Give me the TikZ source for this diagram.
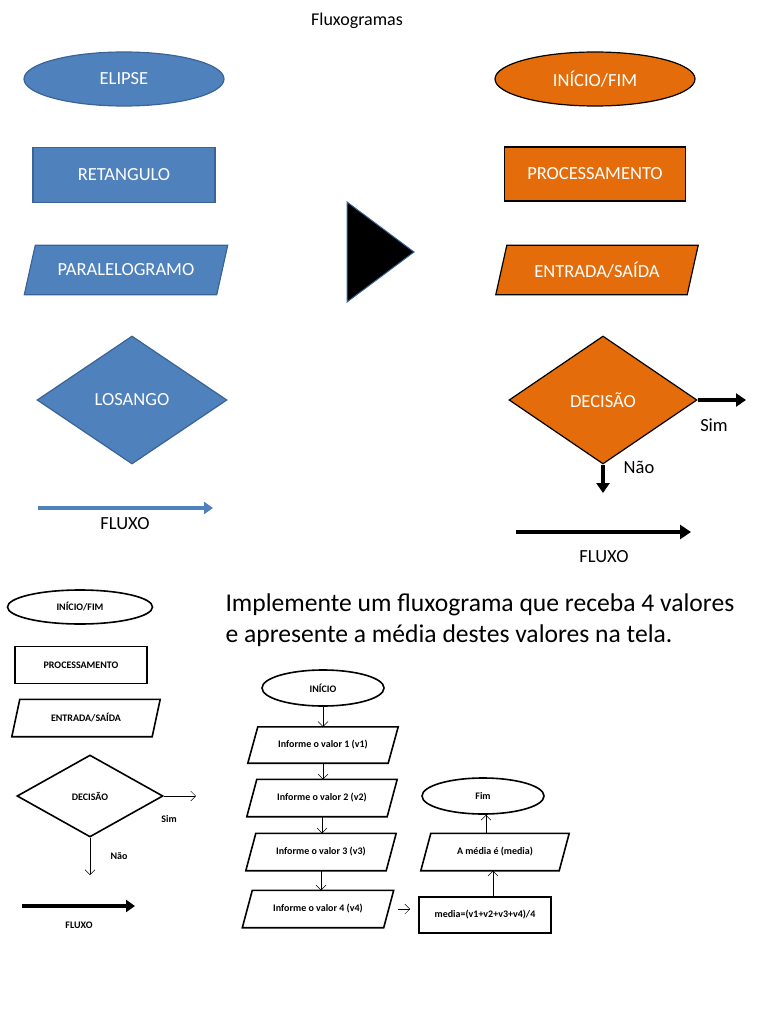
\documentclass[tikz,border=0pt]{standalone}
\usepackage{fontspec}
\setmainfont{Carlito}
\usetikzlibrary{positioning}
\usetikzlibrary{shapes.geometric}
\usetikzlibrary{arrows.meta}
\definecolor{azul}{HTML}{4F81BD}
\definecolor{azulb}{HTML}{3A6496}
\definecolor{laranja}{HTML}{E46C0A}
% parallelogram drawn round a named node: name, center, width, height, skew, style, text
\newcommand\paral[7]{%
\node[inner sep=0pt,minimum width=#3,minimum height=#4] (#1) at #2 {};
\draw[#6] ([xshift=-#5]#1.south west) -- ([xshift=#5]#1.north west)
 -- ([xshift=#5]#1.north east) -- ([xshift=-#5]#1.south east) -- cycle;
\node[inner sep=0pt] at #2 {#7};}
\begin{document}
\begin{tikzpicture}[x=1pt,y=-1pt,
 azulf/.style={fill=azul,draw=azulb,line width=1.2pt},
 larf/.style={fill=laranja,draw=black,line width=1.2pt},
 bco/.style={fill=white,draw=black,line width=1.6pt},
 big/.style={font=\fontsize{18.5}{20}\selectfont,text=white},
 small/.style={font=\fontsize{10}{12}\selectfont\bfseries},
 seta/.style={-{Straight Barb[length=5pt]},line width=0.5pt}]
\useasboundingbox (0,0) rectangle (768,1024);
\node[font=\fontsize{18}{20}\selectfont] (tit) at (357,21) {Fluxogramas};

%----------azul
\node[ellipse,azulf,big,minimum width=200,minimum height=54] (ell) at (124,79) {ELIPSE};
\node[rectangle,azulf,big,minimum width=182,minimum height=55] (ret) at (124,175) {RETANGULO};
\paral{par}{(126,270)}{192}{49}{5.5}{azulf}{\fontsize{18.5}{20}\selectfont\color{white}PARALELOGRAMO}
\node[diamond,azulf,big,minimum width=190,minimum height=128,inner sep=0pt,aspect=1.5] (los) at (132,400) {LOSANGO};
\coordinate (fa) at (38,508);
\coordinate (fb) at (213,508);
\draw[azul,line width=4pt,-{Triangle[length=9pt,width=12pt]}] (fa) -- (fb);
\node[font=\fontsize{18.5}{20}\selectfont] (flx) at (125,524) {FLUXO};

%----------seta central
\draw[fill=black,draw=azulb,line width=1pt] (347,202) -- (347,302) -- (414,252) -- cycle;

%----------laranja
\node[ellipse,larf,big,minimum width=200,minimum height=54] (ini) at (595,79) {INÍCIO/FIM};
\node[rectangle,larf,big,minimum width=181,minimum height=54] (pro) at (595,174) {PROCESSAMENTO};
\paral{ent}{(597,270)}{191}{49}{5.5}{larf}{\fontsize{18.5}{20}\selectfont\color{white}ENTRADA/SAÍDA}
\node[diamond,larf,big,minimum width=188,minimum height=128,inner sep=0pt,aspect=1.5] (dec) at (603,400) {DECISÃO};
\coordinate (sim) at (746,400);
\coordinate (nao) at (603,493);
\draw[line width=4pt,-{Triangle[length=10pt,width=13pt]}] (dec.east) -- (sim);
\draw[line width=4pt,-{Triangle[length=10pt,width=13pt]}] (dec.south) -- (nao);
\node[font=\fontsize{18.5}{20}\selectfont] (ls) at (714,425) {Sim};
\node[font=\fontsize{18.5}{20}\selectfont] (ln) at (639,467) {Não};
\coordinate (ga) at (516,532);
\coordinate (gb) at (691,532);
\draw[line width=4pt,-{Triangle[length=11pt,width=14pt]}] (ga) -- (gb);
\node[font=\fontsize{18.5}{20}\selectfont] (flx2) at (604,557) {FLUXO};

%----------legenda preta
\node[ellipse,bco,small,minimum width=145,minimum height=34] (bi) at (80,607) {INÍCIO/FIM};
\node[rectangle,bco,small,minimum width=132,minimum height=37] (bp) at (81,665) {PROCESSAMENTO};
\paral{be}{(86,718)}{140}{37}{4}{bco}{\fontsize{10}{12}\selectfont\bfseries ENTRADA/SAÍDA}
\node[diamond,bco,small,minimum width=146,minimum height=82,inner sep=0pt,aspect=1.8] (bd) at (90,796) {DECISÃO};
\coordinate (bs) at (196,796);
\coordinate (bn) at (90,875);
\draw[seta] (bd.east) -- (bs);
\draw[seta] (bd.south) -- (bn);
\node[small] (bls) at (169,819) {Sim};
\node[small] (bln) at (119,856) {Não};
\coordinate (ha) at (22,906);
\coordinate (hb) at (135,906);
\draw[line width=4pt,-{Triangle[length=9pt,width=12pt]}] (ha) -- (hb);
\node[small] (flx3) at (79,925) {FLUXO};

%----------enunciado
\node[font=\fontsize{25.6}{31}\selectfont,align=left,anchor=north west] (enun) at (222,590)
 {Implemente um fluxograma que receba 4 valores\\e apresente a média destes valores na tela.};

%----------fluxograma
\node[ellipse,bco,small,minimum width=122,minimum height=36] (inicio) at (323,688) {INÍCIO};
\paral{v1}{(323,745)}{140}{36}{5}{bco}{\fontsize{10}{12}\selectfont\bfseries Informe o valor 1 (v1)}
\paral{v2}{(322,798)}{140}{37}{5}{bco}{\fontsize{10}{12}\selectfont\bfseries Informe o valor 2 (v2)}
\paral{v3}{(321,852)}{140}{37}{5}{bco}{\fontsize{10}{12}\selectfont\bfseries Informe o valor 3 (v3)}
\paral{v4}{(318,909)}{141}{37}{5}{bco}{\fontsize{10}{12}\selectfont\bfseries Informe o valor 4 (v4)}
\node[rectangle,bco,small,minimum width=132,minimum height=36] (media) at (485,915) {media=(v1+v2+v3+v4)/4};
\paral{res}{(495,852)}{138}{37}{5}{bco}{\fontsize{10}{12}\selectfont\bfseries A média é (media)}
\node[ellipse,bco,small,minimum width=122,minimum height=36] (fim) at (483,796) {Fim};
\draw[seta] (inicio.south) -- (inicio.south |- v1.north);
\draw[seta] (v1.south) -- (v1.south |- v2.north);
\draw[seta] (v2.south) -- (v2.south |- v3.north);
\draw[seta] (v3.south) -- (v3.south |- v4.north);
\draw[seta] ([xshift=9]v4.east) -- ([xshift=-8]v4.east -| media.west);
\draw[seta] ([xshift=8]media.north) -- ([xshift=8]media.north |- res.south);
\draw[seta] ([xshift=-9]res.north) -- ([xshift=-9]res.north |- fim.south);
\end{tikzpicture}
\end{document}
